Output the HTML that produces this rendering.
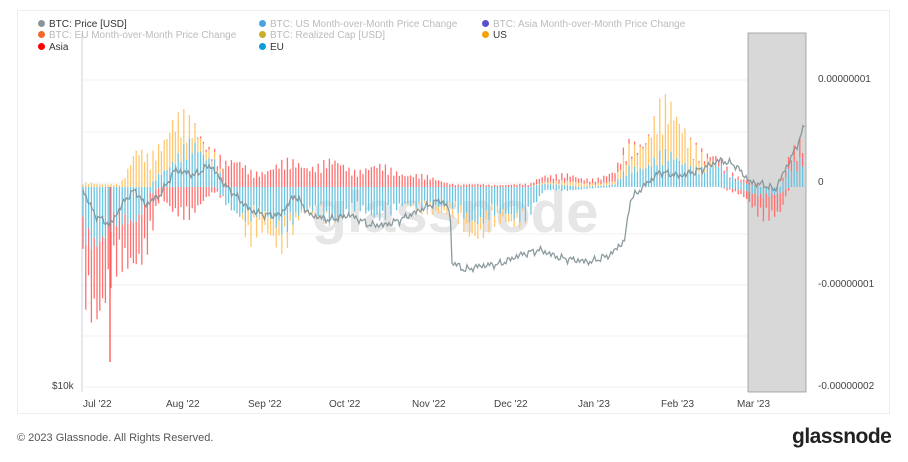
<!DOCTYPE html>
<html><head><meta charset="utf-8"><style>
body{margin:0;background:#fff;font-family:"Liberation Sans",sans-serif;}
#c{position:relative;width:908px;height:462px;overflow:hidden}
.lg{position:absolute;font-size:10px;color:#333;white-space:nowrap}
.lg i{display:inline-block;width:7px;height:7px;border-radius:50%;margin-right:4px;vertical-align:-0px}
.f{color:#bbb}
.xl{position:absolute;top:399px;font-size:10px;color:#444}
.yl{position:absolute;left:818px;font-size:10px;color:#444}
</style></head><body><div id="c">
<div style="position:absolute;left:17px;top:10px;width:871px;height:402px;border:1px solid #eee"></div>
<svg id="s" width="908" height="462" style="position:absolute;left:0;top:0"></svg>
<div class="lg" style="left:38px;top:19px"><i style="background:#8a9499"></i>BTC: Price [USD]</div>
<div class="lg f" style="left:259px;top:19px"><i style="background:#4aa3e0"></i>BTC: US Month-over-Month Price Change</div>
<div class="lg f" style="left:482px;top:19px"><i style="background:#5a4fd0"></i>BTC: Asia Month-over-Month Price Change</div>
<div class="lg f" style="left:38px;top:30px"><i style="background:#f26a2a"></i>BTC: EU Month-over-Month Price Change</div>
<div class="lg f" style="left:259px;top:30px"><i style="background:#c8b02a"></i>BTC: Realized Cap [USD]</div>
<div class="lg" style="left:482px;top:30px"><i style="background:#f5a20a"></i>US</div>
<div class="lg" style="left:38px;top:42px"><i style="background:#f00"></i>Asia</div>
<div class="lg" style="left:259px;top:42px"><i style="background:#0a9ed8"></i>EU</div>
<div class="xl" style="left:83px">Jul '22</div><div class="xl" style="left:166px">Aug '22</div>
<div class="xl" style="left:248px">Sep '22</div><div class="xl" style="left:329px">Oct '22</div>
<div class="xl" style="left:412px">Nov '22</div><div class="xl" style="left:494px">Dec '22</div>
<div class="xl" style="left:578px">Jan '23</div><div class="xl" style="left:661px">Feb '23</div>
<div class="xl" style="left:737px">Mar '23</div>
<div class="yl" style="top:74px">0.00000001</div><div class="yl" style="top:177px">0</div>
<div class="yl" style="top:279px">-0.00000001</div><div class="yl" style="top:381px">-0.00000002</div>
<div style="position:absolute;left:52px;top:381px;font-size:10px;color:#444">$10k</div>
<div style="position:absolute;left:17px;top:432px;font-size:11px;color:#555">© 2023 Glassnode. All Rights Reserved.</div>
<div style="position:absolute;left:792px;top:425px;font-size:21px;color:#222;font-weight:bold;letter-spacing:-0.5px">glassnode</div>
</div>
<script>
const s=document.getElementById('s');let h='';
[80,132,183,234,285,336,387].forEach(y=>h+=`<line x1="83" x2="806" y1="${y}" y2="${y}" stroke="#f2f2f2"/>`);
h+='<rect x="748" y="33" width="58" height="359" fill="#d8d8d8" stroke="#999" stroke-width="0.8"/>';
h+='<line x1="82" x2="82" y1="33" y2="392" stroke="#ccd"/>';
h+='<text x="455" y="232" font-size="58" font-weight="bold" fill="#e6e6e6" text-anchor="middle" font-family="Liberation Sans">glassnode</text>';
function interp(p,x){for(let i=0;i<p.length-1;i++){if(x>=p[i][0]&&x<=p[i+1][0]){const t=(x-p[i][0])/(p[i+1][0]-p[i][0]);return p[i].slice(1).map((v,k)=>v+(p[i+1][k+1]-v)*t);}}return p[p.length-1].slice(1);}
const P=[[83,0,5,0,60,0,65],[100,0,3,0,60,0,75],[120,0,5,0,55,0,70],[135,0,40,0,40,0,45],[150,0,30,0,10,0,50],[160,20,40,0,0,0,15],[172,35,60,0,0,0,35],[190,45,20,0,0,0,30],[215,40,10,5,0,0,8],[225,0,0,30,20,0,0],[240,0,0,25,30,0,0],[250,0,0,20,40,30,0],[280,0,0,25,45,20,0],[300,0,0,30,35,5,0],[350,0,0,25,35,0,0],[400,0,0,20,30,0,0],[430,0,0,10,20,5,0],[460,0,0,3,35,15,0],[500,0,0,3,40,15,0],[530,0,0,3,30,0,0],[545,5,3,10,5,0,0],[580,0,5,5,3,0,0],[615,3,3,10,0,0,0],[630,25,25,5,0,0,0],[660,35,50,0,0,0,0],[685,35,50,0,0,0,0],[705,20,10,5,0,0,0],[720,25,0,5,0,0,0],[745,5,0,5,5,0,10],[760,0,0,0,10,0,20],[780,0,0,0,10,0,30],[790,30,0,20,0,0,0],[805,30,0,20,0,0,0]];
const Z=187;let i=0;
for(let x=83;x<=805;x+=2.8,i++){const v=interp(P,x);const r=(0.55+0.45*Math.abs(Math.sin(i*1.7)))*(0.9+0.2*Math.sin(i*0.37));
const bar=(y1,y2,c)=>{if(Math.abs(y2-y1)>0.3)h+=`<line x1="${x.toFixed(1)}" x2="${x.toFixed(1)}" y1="${y1.toFixed(1)}" y2="${y2.toFixed(1)}" stroke="${c}" stroke-width="1.3"/>`;};
let y=Z;[[v[0],'#6cc4e0'],[v[1],'#ffc870'],[v[2],'#ff7070']].forEach(([a,c])=>{const n=y-a*r;bar(y,n,c);y=n;});
y=Z;[[v[3],'#6cc4e0'],[v[4],'#ffc870'],[v[5],'#ff7070']].forEach(([a,c])=>{const n=y+a*r;bar(y,n,c);y=n;});}
h+='<line x1="110" x2="110" y1="187" y2="362" stroke="#ff5050" stroke-width="1.3"/>';
const L=[[83,190],[90,205],[95,215],[110,225],[125,200],[135,190],[145,205],[160,195],[175,170],[195,175],[210,165],[225,185],[235,195],[250,210],[265,215],[280,215],[295,195],[310,215],[330,220],[350,215],[370,225],[385,225],[400,220],[420,210],[440,200],[450,210],[452,262],[465,270],[480,266],[500,264],[520,255],[540,250],[560,258],[590,262],[610,255],[625,240],[630,200],[645,185],[660,172],[680,176],[700,170],[720,160],[735,165],[750,182],[765,185],[775,190],[785,170],[795,150],[805,125]];
let d='',k=0;for(let x=83;x<=805;x+=1.5,k++){const y=interp(L,x)[0]+2.2*Math.sin(k*2.3)+1.5*Math.sin(k*0.9)+1.2*Math.sin(k*5.1);d+=(k?'L':'M')+x.toFixed(1)+','+y.toFixed(1);}
h+=`<path d="${d}" fill="none" stroke="#7f9096" stroke-width="1.3" opacity="0.9"/>`;
s.innerHTML=h;
</script></body></html>
